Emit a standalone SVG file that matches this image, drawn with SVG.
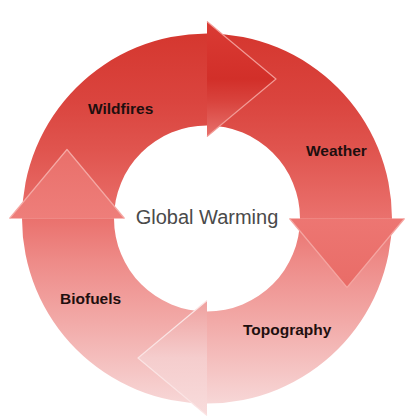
<svg xmlns="http://www.w3.org/2000/svg" width="409" height="420" viewBox="0 0 409 420">
<style>
.lbl{font-family:"Liberation Sans",Arial,sans-serif;font-weight:bold;font-size:15.5px;fill:#1e0f0f}
.ctr{font-family:"Liberation Sans",Arial,sans-serif;font-size:20px;fill:#4a4a4a}
.edge{fill:none;stroke-width:1.2;stroke-linejoin:round}
</style>
<defs>
<linearGradient id="ring" gradientUnits="userSpaceOnUse" x1="0" y1="33" x2="0" y2="404">
<stop offset="0" stop-color="#d5372f"/>
<stop offset="0.18" stop-color="#da443e"/>
<stop offset="0.32" stop-color="#e0554f"/>
<stop offset="0.5" stop-color="#ea716d"/>
<stop offset="0.62" stop-color="#ee8c89"/>
<stop offset="0.78" stop-color="#f2aaa8"/>
<stop offset="1" stop-color="#f7d7d7"/>
</linearGradient>
<linearGradient id="hTop" gradientUnits="userSpaceOnUse" x1="0" y1="21.5" x2="0" y2="136.5">
<stop offset="0" stop-color="#da3b34"/>
<stop offset="0.5" stop-color="#d22f29"/>
<stop offset="0.7" stop-color="#d9443e"/>
<stop offset="1" stop-color="#e7716c"/>
</linearGradient>
<linearGradient id="hRight" gradientUnits="userSpaceOnUse" x1="0" y1="218.5" x2="0" y2="287.5">
<stop offset="0" stop-color="#ed7672"/>
<stop offset="1" stop-color="#e96c67"/>
</linearGradient>
<linearGradient id="hBottom" gradientUnits="userSpaceOnUse" x1="0" y1="300.5" x2="0" y2="415.5">
<stop offset="0" stop-color="#efa09e"/>
<stop offset="0.5" stop-color="#f5cdcd"/>
<stop offset="1" stop-color="#f8dcdc"/>
</linearGradient>
<linearGradient id="hLeft" gradientUnits="userSpaceOnUse" x1="0" y1="149.5" x2="0" y2="218.5">
<stop offset="0" stop-color="#e96f6a"/>
<stop offset="1" stop-color="#ee7e7a"/>
</linearGradient>
</defs>
<g id="wildfires">
<path d="M22,218.5 A185,185 0 0 1 207,33.5 L207,125.5 A93,93 0 0 0 114,218.5 Z" fill="url(#ring)"/>
</g>
<g id="weather">
<path d="M207,33.5 A185,185 0 0 1 392,218.5 L300,218.5 A93,93 0 0 0 207,125.5 Z" fill="url(#ring)"/>
</g>
<g id="topography">
<path d="M392,218.5 A185,185 0 0 1 207,403.5 L207,311.5 A93,93 0 0 0 300,218.5 Z" fill="url(#ring)"/>
</g>
<g id="biofuels">
<path d="M207,403.5 A185,185 0 0 1 22,218.5 L114,218.5 A93,93 0 0 0 207,311.5 Z" fill="url(#ring)"/>
</g>
<g id="connectors">
<polygon points="207,21.5 276,79 207,136.5" fill="url(#hTop)"/>
<polyline class="edge" points="207,21.5 276,79 207,136.5" stroke="#f29a95"/>
<polygon points="289.5,218.5 404.5,218.5 347,287.5" fill="url(#hRight)"/>
<polyline class="edge" points="289.5,218.5 347,287.5 404.5,218.5" stroke="#f5a5a1"/>
<polygon points="207,300.5 207,415.5 138,358" fill="url(#hBottom)"/>
<polyline class="edge" points="207,300.5 138,358 207,415.5" stroke="#fbe4e4"/>
<polygon points="9.5,218.5 124.5,218.5 67,149.5" fill="url(#hLeft)"/>
<polyline class="edge" points="9.5,218.5 67,149.5 124.5,218.5" stroke="#f5a9a5"/>
</g>
<g id="labels">
<text class="lbl" x="88" y="114">Wildfires</text>
<text class="lbl" x="306" y="156">Weather</text>
<text class="lbl" x="243" y="335">Topography</text>
<text class="lbl" x="60" y="304">Biofuels</text>
</g>
<g id="center">
<text class="ctr" x="207" y="224" text-anchor="middle">Global Warming</text>
</g>
</svg>
